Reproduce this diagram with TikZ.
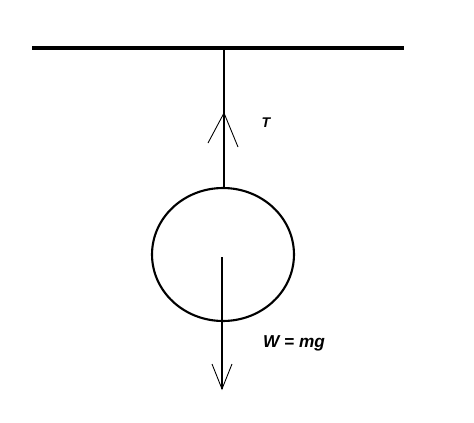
\documentclass[tikz,border=0pt]{standalone}
\usepackage{fontspec}
\setmainfont{Liberation Sans}
\usetikzlibrary{shapes.geometric}

\begin{document}
\begin{tikzpicture}[x=0.02cm, y=-0.02cm]
    \useasboundingbox (0,0) rectangle (474,423);
    % Teto
    \coordinate (tetoE) at (32,48);
    \coordinate (tetoD) at (404,48);
    \draw[line width=2.3pt] (tetoE) -- (tetoD);
    % Bola
    \node[draw, ellipse, line width=1.2pt, inner sep=0pt,
          minimum width=2.84cm, minimum height=2.66cm] (bola) at (223,254.5) {};
    % Corda
    \coordinate (fio) at (224,48);
    \draw[line width=1.7pt] (fio) -- (fio |- bola.north);
    % Tensão
    \coordinate (ponta) at (224,113);
    \draw[line width=0.5pt] (208,143) -- (ponta) -- (238,147);
    \node[font=\bfseries\itshape\fontsize{8}{9}\selectfont] (tensao) at (266,123) {T};
    % Peso
    \coordinate (centro) at (222,257);
    \coordinate (fim) at (222,389);
    \draw[line width=0.6pt] (centro) -- (fim);
    \draw[line width=0.5pt] (212,364) -- (fim) -- (232,364);
    \node[font=\bfseries\itshape\fontsize{9.8}{11}\selectfont] (peso) at (294,343) {W = mg};
\end{tikzpicture}
\end{document}
